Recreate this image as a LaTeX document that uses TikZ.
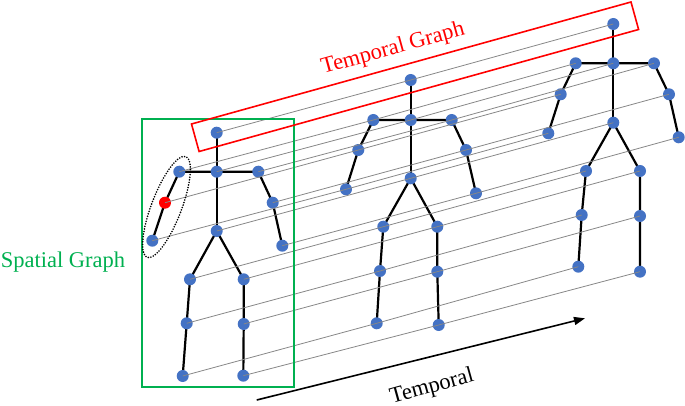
\documentclass[tikz,border=0pt]{standalone}
\usepackage{fontspec}
\setmainfont{Liberation Serif}
\usetikzlibrary{shapes.geometric,arrows.meta}
\definecolor{jointblue}{RGB}{68,114,196}
\definecolor{grgreen}{RGB}{0,176,80}
\definecolor{linkgray}{RGB}{135,135,135}
\tikzset{
  joint/.style={circle,fill=jointblue,inner sep=0pt,minimum size=12pt},
  hotjoint/.style={circle,fill=red,inner sep=0pt,minimum size=12pt},
  bone/.style={line width=2.2pt,black},
  link/.style={line width=0.8pt,linkgray},
  txt/.style={font=\fontsize{22.5}{24}\selectfont,inner sep=0pt}
}
\begin{document}
\begin{tikzpicture}[x=1pt,y=-1pt]
\useasboundingbox (0,0) rectangle (685,406);
% skeleton 1
\coordinate (hd1) at (216.7,132.7);
\coordinate (nk1) at (216.7,171.7);
\coordinate (ls1) at (179.3,171.7);
\coordinate (rs1) at (258.3,171.7);
\coordinate (le1) at (165,202.7);
\coordinate (lh1) at (152.3,240.7);
\coordinate (re1) at (272.7,202.7);
\coordinate (rh1) at (282.3,245.7);
\coordinate (hp1) at (216.7,231);
\coordinate (lp1) at (190,279.3);
\coordinate (rp1) at (243.7,279.3);
\coordinate (lk1) at (186.7,323.3);
\coordinate (rk1) at (243.7,324);
\coordinate (lf1) at (182.7,376);
\coordinate (rf1) at (243.3,375.7);
% skeleton 2
\coordinate (hd2) at (410.7,80);
\coordinate (nk2) at (410.7,120);
\coordinate (ls2) at (373.3,120);
\coordinate (rs2) at (451.7,120);
\coordinate (le2) at (358.3,150);
\coordinate (lh2) at (346,189.3);
\coordinate (re2) at (466,150);
\coordinate (rh2) at (476,193.3);
\coordinate (hp2) at (410.7,178.3);
\coordinate (lp2) at (383.3,226.7);
\coordinate (rp2) at (437.3,226.7);
\coordinate (lk2) at (380,271);
\coordinate (rk2) at (437.3,271.7);
\coordinate (lf2) at (376.7,323.3);
\coordinate (rf2) at (438.7,325);
% skeleton 3
\coordinate (hd3) at (613.3,24);
\coordinate (nk3) at (613.3,63.3);
\coordinate (ls3) at (575.7,63.3);
\coordinate (rs3) at (654,63.3);
\coordinate (le3) at (560.7,94.3);
\coordinate (lh3) at (548.3,133.3);
\coordinate (re3) at (669,94.3);
\coordinate (rh3) at (678.7,137.3);
\coordinate (hp3) at (613.3,122.7);
\coordinate (lp3) at (586,171);
\coordinate (rp3) at (640,171);
\coordinate (lk3) at (581.7,215);
\coordinate (rk3) at (640,216);
\coordinate (lf3) at (578.3,266.7);
\coordinate (rf3) at (640,271.7);
% bones
\foreach \i in {1,2,3}{
  \draw[bone] (hd\i) -- (nk\i) -- (hp\i);
  \draw[bone] (lh\i) -- (le\i) -- (ls\i) -- (nk\i) -- (rs\i) -- (re\i) -- (rh\i);
  \draw[bone] (lf\i) -- (lk\i) -- (lp\i) -- (hp\i) -- (rp\i) -- (rk\i) -- (rf\i);
}
% joints
\foreach \i in {1,2,3}{
  \foreach \j in {hd,nk,ls,rs,re,lh,rh,hp,lp,rp,lk,rk,lf,rf}{
    \node[joint] (\j\i n) at (\j\i) {};
  }
}
\node[hotjoint] (le1n) at (le1) {};
\node[joint] (le2n) at (le2) {};
\node[joint] (le3n) at (le3) {};
% temporal links
\foreach \j in {hd,nk,ls,rs,le,re,lh,rh,hp,lp,rp,lk,rk,lf,rf}{
  \draw[link] (\j1n.center) -- (\j2n.center) -- (\j3n.center);
}
% spatial graph box
\node[draw=grgreen,line width=1.5pt,minimum width=152pt,minimum height=268pt,inner sep=0pt] (sbox) at (218,253) {};
\node[txt,text=grgreen] (slabel) at (63,262) {Spatial Graph};
% dotted ellipse
\node[draw,ellipse,line width=1.8pt,dash pattern=on 0pt off 2.6pt,line cap=round,
      minimum width=30pt,minimum height=108pt,inner sep=0pt,rotate=-21] (ell) at (166.5,207) {};
% temporal graph box
\coordinate (ta) at (191.5,124);
\coordinate (tb) at (199.1,151.5);
\coordinate (tc) at (638.6,29.5);
\coordinate (td) at (631,2);
\draw[red,line width=1.6pt] (ta) -- (tb) -- (tc) -- (td) -- cycle;
\node[txt,text=red,rotate=15.5] (tlabel) at (393,49) {Temporal Graph};
% temporal arrow
\coordinate (arA) at (256.7,400);
\coordinate (arB) at (585,318.3);
\draw[line width=1.6pt,-{Triangle[length=11pt,width=8pt]}] (arA) -- (arB);
\node[txt,rotate=15.5] (arlabel) at (432,387) {Temporal};
\end{tikzpicture}
\end{document}
